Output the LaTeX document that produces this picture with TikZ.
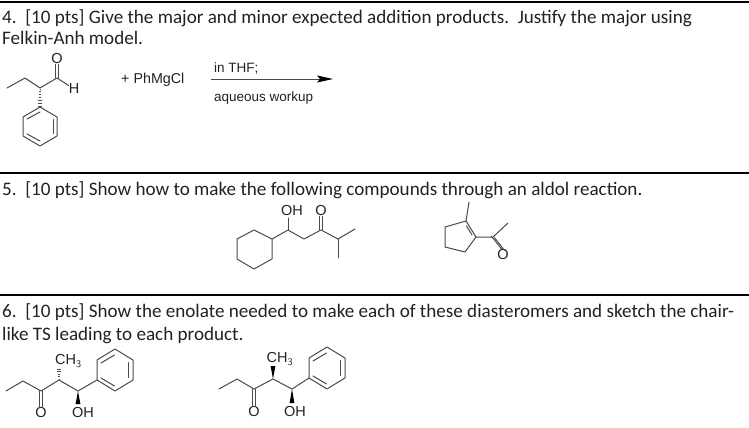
\documentclass[tikz,border=0pt]{standalone}
\usepackage{fontspec}
\setmainfont{Carlito}
\newfontfamily\chemfont{Liberation Sans}
\usetikzlibrary{calc,arrows.meta}
\definecolor{bondgray}{HTML}{4A4A4A}
\definecolor{inkgray}{HTML}{222222}
\tikzset{
  x=1pt,y=-1pt,
  rulebar/.style={line width=2pt,black},
  question/.style={anchor=base west,inner sep=0pt,font=\fontsize{19.1}{22}\selectfont,text=inkgray},
  chemtext/.style={anchor=base west,inner sep=0pt,font=\chemfont\fontsize{13.5}{15}\selectfont,text=inkgray},
  atomlabel/.style={inner sep=0pt,font=\chemfont\fontsize{14.5}{16}\selectfont,text=inkgray},
  bond/.style={draw=bondgray,line width=1pt,line join=round,line cap=round},
  wedgebond/.style={fill=black,draw=none},
  hashbar/.style={draw=bondgray,line width=0.8pt},
  rxnarrow/.style={draw=bondgray,line width=1pt,-{Stealth[length=16pt,width=7pt,inset=3pt,black]}},
}
\begin{document}
\begin{tikzpicture}
\useasboundingbox (0,0) rectangle (749,428);
\fill[white] (0,0) rectangle (749,428);

% rules
\coordinate (r1a) at (0,2); \coordinate (r1b) at (749,2);
\coordinate (r2a) at (0,173); \coordinate (r2b) at (749,173);
\coordinate (r3a) at (0,295); \coordinate (r3b) at (749,295);
\draw[rulebar] (r1a) -- (r1b);
\draw[rulebar] (r2a) -- (r2b);
\draw[rulebar] (r3a) -- (r3b);

% question texts
\node[question] (q4a) at (2,24) {4.\ \ [10 pts] Give the major and minor expected addition products.\ \ Justify the major using};
\node[question] (q4b) at (2,45) {Felkin-Anh model.};
\node[question] (q5) at (2,195) {5.\ \ [10 pts] Show how to make the following compounds through an aldol reaction.};
\node[question] (q6a) at (2,317) {6.\ \ [10 pts] Show the enolate needed to make each of these diasteromers and sketch the chair-};
\node[question] (q6b) at (2,340) {like TS leading to each product.};

% molecule 1
\coordinate (a1) at (7,88);
\coordinate (a2) at (25,78);
\coordinate (a3) at (40,88);
\coordinate (a4) at (57,78);
\coordinate (a5) at (40,107);
\node[atomlabel] (aO) at (57,59) {O};
\node[atomlabel] (aH) at (74,89) {H};
\draw[bond] (a1) -- (a2) -- (a3) -- (a4) -- (aH);
\draw[bond] ([xshift=-1.6]a4) -- ([xshift=-1.6]aO.south);
\draw[bond] ([xshift=1.6]a4) -- ([xshift=1.6]aO.south);
\foreach \t/\w in {0.05/0.4,0.2/0.7,0.35/1,0.5/1.3,0.65/1.6,0.8/1.9,0.95/2.2}{
  \draw[hashbar] ($(a3)!\t!(a5)+(-\w,0)$) -- ($(a3)!\t!(a5)+(\w,0)$);
}
\draw[bond] (40,107) -- (57,117) -- (57,136) -- (40,146) -- (23,136) -- (23,117) -- cycle;
\draw[bond] (53,119.5) -- (53,133.5);
\draw[bond] (40,141) -- (27,134);
\draw[bond] (27,119) -- (40,112);

% reagents
\node[chemtext,font=\chemfont\fontsize{14.3}{16}\selectfont] (pm) at (121,83) {+ PhMgCl};
\node[chemtext] (thf) at (214,72) {in THF;};
\node[chemtext] (aq) at (214,101) {aqueous workup};
\coordinate (ar1) at (211,79);
\coordinate (ar2) at (333,79);
\draw[rxnarrow] (ar1) -- (ar2);

% molecule 2
\draw[bond] (272,239) -- (272,259) -- (254,269) -- (237,259) -- (237,239) -- (254,230) -- cycle;
\coordinate (b1) at (272,239);
\coordinate (b2) at (288,230);
\coordinate (b3) at (304,239);
\coordinate (b4) at (321,230);
\coordinate (b5) at (338,239);
\coordinate (b6) at (355,229);
\coordinate (b7) at (338,258);
\node[atomlabel] (bOH) at (292,211) {OH};
\node[atomlabel] (bO) at (321,211) {O};
\draw[bond] (b1) -- (b2) -- (b3) -- (b4) -- (b5) -- (b6);
\draw[bond] (b5) -- (b7);
\draw[bond] (b2) -- (288,218);
\draw[bond] ([xshift=-1.6]b4) -- ([xshift=-1.6]bO.south);
\draw[bond] ([xshift=1.6]b4) -- ([xshift=1.6]bO.south);

% molecule 3 (cyclopentene)
\coordinate (c1) at (445,227);
\coordinate (c2) at (466,221);
\coordinate (c3) at (476,237);
\coordinate (c4) at (465,252);
\coordinate (c5) at (445,247);
\coordinate (c6) at (469,202);
\coordinate (c7) at (493,237);
\coordinate (c8) at (508,223);
\node[atomlabel] (cO) at (503,255) {O};
\draw[bond] (c1) -- (c2) -- (c3) -- (c4) -- (c5) -- cycle;
\draw[bond] (466.5,226) -- (472,235);
\draw[bond] (c2) -- (c6);
\draw[bond] (c3) -- (c7) -- (c8);
\draw[bond] ([xshift=-1.5,yshift=0.7]c7) -- ([xshift=-1.5,yshift=0.7]cO.north);
\draw[bond] ([xshift=1.5,yshift=-0.7]c7) -- ([xshift=1.5,yshift=-0.7]cO.north);

% molecule 4
\coordinate (d1) at (6,391);
\coordinate (d2) at (23,381);
\coordinate (d3) at (41,391);
\coordinate (d4) at (59,380);
\coordinate (d5) at (78,391);
\coordinate (d6) at (97,380);
\coordinate (d7) at (59,367);
\coordinate (d8) at (78,404);
\node[atomlabel] (dO) at (41,413) {O};
\node[atomlabel] (dCH) at (68.5,361) {CH$_{\mathsf 3}$};
\node[atomlabel] (dOH) at (83,413) {OH};
\draw[bond] (d1) -- (d2) -- (d3) -- (d4) -- (d5) -- (d6);
\draw[bond] ([xshift=-1.6]d3) -- ([xshift=-1.6]dO.north);
\draw[bond] ([xshift=1.6]d3) -- ([xshift=1.6]dO.north);
\foreach \t/\w in {0.05/0.4,0.25/0.8,0.45/1.2,0.65/1.6,0.85/2}{
  \draw[hashbar] ($(d4)!\t!(d7)+(-\w,0)$) -- ($(d4)!\t!(d7)+(\w,0)$);
}
\fill[wedgebond] (d5) -- ($(d8)+(-2.4,0)$) -- ($(d8)+(2.4,0)$) -- cycle;
\draw[bond] (97,380) -- (97,360) -- (115,349) -- (133,360) -- (133,380) -- (115,391) -- cycle;
\draw[bond] (101,363) -- (114.5,355);
\draw[bond] (128.5,362.5) -- (128.5,377.5);
\draw[bond] (101,378) -- (114.5,386);

% molecule 5
\coordinate (e1) at (219,389);
\coordinate (e2) at (237,379);
\coordinate (e3) at (254,389);
\coordinate (e4) at (273,379);
\coordinate (e5) at (292,389);
\coordinate (e6) at (309,378);
\coordinate (e7) at (273,366);
\coordinate (e8) at (292,403);
\node[atomlabel] (eO) at (254,412) {O};
\node[atomlabel] (eCH) at (280,359) {CH$_{\mathsf 3}$};
\node[atomlabel] (eOH) at (295,412) {OH};
\draw[bond] (e1) -- (e2) -- (e3) -- (e4) -- (e5) -- (e6);
\draw[bond] ([xshift=-1.6]e3) -- ([xshift=-1.6]eO.north);
\draw[bond] ([xshift=1.6]e3) -- ([xshift=1.6]eO.north);
\fill[wedgebond] (e4) -- ($(e7)+(-2.4,0)$) -- ($(e7)+(2.4,0)$) -- cycle;
\fill[wedgebond] (e5) -- ($(e8)+(-2.4,0)$) -- ($(e8)+(2.4,0)$) -- cycle;
\draw[bond] (309,378) -- (309,358) -- (327,347) -- (345,358) -- (345,378) -- (327,389) -- cycle;
\draw[bond] (313,361) -- (326.5,353);
\draw[bond] (340.5,360.5) -- (340.5,375.5);
\draw[bond] (313,376) -- (326.5,384);
\end{tikzpicture}
\end{document}
